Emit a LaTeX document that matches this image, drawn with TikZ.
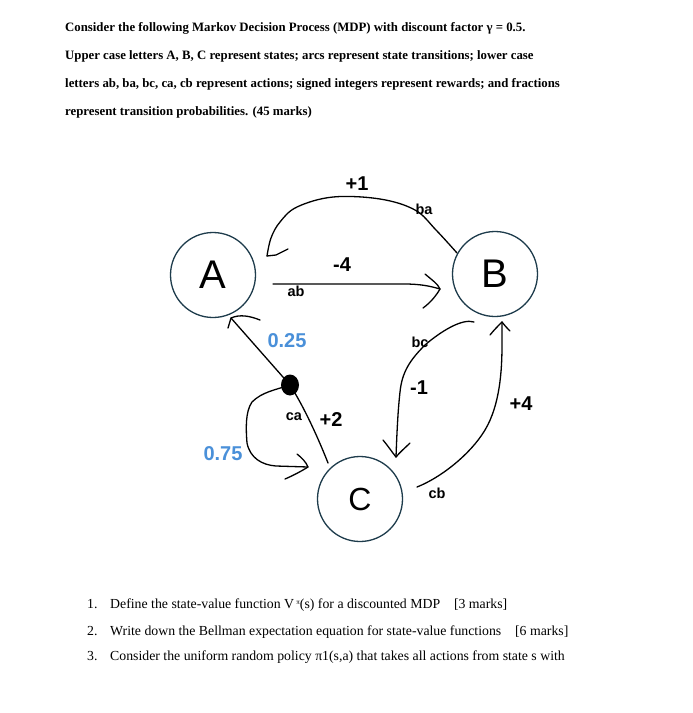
\documentclass[tikz,border=0pt]{standalone}
\usepackage{fontspec}
\usetikzlibrary{shapes.geometric}
\setmainfont{Liberation Serif}
\newfontfamily\arial{Liberation Sans}
\definecolor{ring}{HTML}{1E3C4C}
\definecolor{prob}{HTML}{4A90D9}
\begin{document}
\begin{tikzpicture}[x=1pt,y=-1pt,
  state/.style={circle,draw=ring,line width=1.3pt,minimum size=85pt,inner sep=0pt,font=\arial\fontsize{40}{40}\selectfont},
  ink/.style={line width=1.3pt,line cap=round,line join=round},
  rew/.style={font=\arial\bfseries\fontsize{20}{20}\selectfont},
  act/.style={font=\arial\bfseries\fontsize{14.5}{14.5}\selectfont},
  pr/.style={font=\arial\bfseries\fontsize{20}{20}\selectfont,text=prob},
  head/.style={anchor=base west,inner sep=0pt,font=\bfseries\fontsize{12.8}{14}\selectfont},
  body/.style={anchor=base west,inner sep=0pt,font=\fontsize{13.8}{15}\selectfont}]
\useasboundingbox[fill=white] (0,0) rectangle (693,713);
% header text
\node[head] (h1) at (65,31) {Consider the following Markov Decision Process (MDP) with discount factor γ = 0.5.};
\node[head] (h2) at (65,59) {Upper case letters A, B, C represent states; arcs represent state transitions; lower case};
\node[head] (h3) at (65,87) {letters ab, ba, bc, ca, cb represent actions; signed integers represent rewards; and fractions};
\node[head] (h4) at (65,115) {represent transition probabilities. (45 marks)};
% states
\node[state] (A) at (213,275) {A};
\node[state] (B) at (495,274) {B};
\node[state,font=\arial\fontsize{32}{32}\selectfont] (C) at (360,499) {C};
% chance node
\node[ellipse,fill=black,minimum width=18pt,minimum height=21pt,inner sep=0pt] (D) at (290,385) {};
% ba arrow (B -> A)
\coordinate (baS) at (457,253);
\coordinate (baT) at (267,256);
\draw[ink] plot[smooth,tension=0.6] coordinates {(baS) (436,230) (415,210) (380,199) (333,197) (297,207) (280,222) (271,238) (baT)};
\draw[ink] (baT) -- (276,255) -- (288,249);
% ab arrow (A -> B)
\coordinate (abS) at (273,284);
\coordinate (abT) at (440,289);
\draw[ink] (abS) -- (404,284) .. controls (420,284) and (430,286) .. (abT);
\draw[ink] (425,274) .. controls (432,280) and (438,284) .. (abT) .. controls (436,296) and (430,303) .. (423,308);
% ca arrow from C to dot, dot to A
\coordinate (caS) at (328,463);
\coordinate (caT) at (231,318);
\draw[ink] (caS) .. controls (321,445) and (306,410) .. (D.center);
\draw[ink] (D.center) -- (caT);
\draw[ink] (228,328) -- (caT) .. controls (240,314) and (250,316) .. (260,320);
% loop from dot back to C
\coordinate (lpT) at (308,467);
\draw[ink] (D.center) .. controls (275,390) and (262,392) .. (252,402)
  .. controls (245,412) and (246,430) .. (247,443)
  .. controls (250,458) and (262,465) .. (276,466) -- (lpT);
\draw[ink] (297,454) .. controls (302,458) and (306,462) .. (lpT) .. controls (300,472) and (292,476) .. (285,479);
% bc arrow (B -> C)
\coordinate (bcS) at (474,322);
\coordinate (bcT) at (396,457);
\draw[ink] (bcS) .. controls (462,318) and (440,332) .. (425,345)
  .. controls (410,360) and (402,372) .. (400,392)
  .. controls (398,410) and (397,430) .. (bcT);
\draw[ink] (383,440) .. controls (388,446) and (392,452) .. (bcT) .. controls (400,452) and (405,448) .. (410,443);
% cb arrow (C -> B)
\coordinate (cbS) at (417,487);
\coordinate (cbT) at (502,322);
\draw[ink] (cbS) .. controls (440,478) and (470,455) .. (485,430)
  .. controls (500,405) and (502,370) .. (502,345) -- (cbT);
\draw[ink] (490,335) .. controls (494,330) and (498,326) .. (cbT) .. controls (505,326) and (508,329) .. (510,331);
% labels
\node[rew] (r1) at (357,184) {+1};
\node[act] (lba) at (424,209) {ba};
\node[rew] (r4) at (342,265) {-4};
\node[act] (lab) at (296,291) {ab};
\node[pr] (p25) at (287,341) {0.25};
\node[pr] (p75) at (223,454) {0.75};
\node[act] (lca) at (294,417) {ca};
\node[rew] (r2) at (331,420) {+2};
\node[act] (lbc) at (420,342) {bc};
\node[rew] (rm1) at (419,388) {-1};
\node[rew] (rp4) at (521,404) {+4};
\node[act] (lcb) at (437,493) {cb};
% questions
\node[body] (n1) at (87,608) {1.};
\node[body] (q1) at (110,608) {Define the state-value function V\,\raisebox{4pt}{\fontsize{7}{7}\selectfont π}(s) for a discounted MDP\quad [3 marks]};
\node[body] (n2) at (87,635) {2.};
\node[body] (q2) at (110,635) {Write down the Bellman expectation equation for state-value functions\quad [6 marks]};
\node[body] (n3) at (87,660) {3.};
\node[body] (q3) at (110,660) {Consider the uniform random policy π1(s,a) that takes all actions from state s with};
\end{tikzpicture}
\end{document}
